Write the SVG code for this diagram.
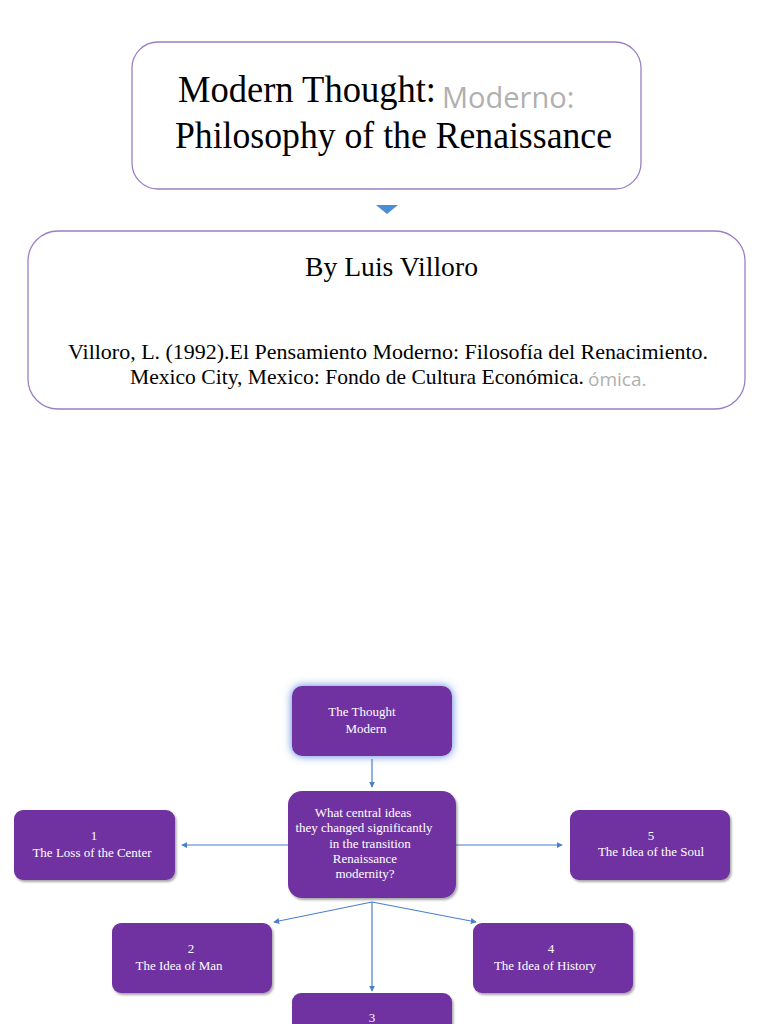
<svg xmlns="http://www.w3.org/2000/svg" width="768" height="1024" viewBox="0 0 768 1024">
<defs>
<style>
.card{fill:#fff;stroke:#9b7fc4;stroke-width:1.3}
.ser{font-family:"Liberation Serif",serif;fill:#000}
.ghost{font-family:"Open Sans","Liberation Sans",sans-serif;fill:#b0b0b0}
.pb{fill:#7030a0}
.wt{font-family:"Liberation Serif","Times New Roman",serif;fill:#fff;font-size:13px;text-anchor:middle}
.ln{stroke:#4a7fd0;stroke-width:1.2;fill:none;marker-end:url(#ah)}
</style>
<marker id="ah" viewBox="0 0 8 8" refX="7" refY="4" markerWidth="5" markerHeight="5" orient="auto"><path d="M0,0L8,4L0,8z" fill="#4a7fd0"/></marker>
<filter id="sh" x="-10%" y="-10%" width="125%" height="130%"><feDropShadow dx="1.5" dy="2" stdDeviation="1.2" flood-color="#000" flood-opacity="0.35"/></filter>
<filter id="glow" x="-20%" y="-30%" width="140%" height="160%"><feDropShadow dx="0" dy="0" stdDeviation="4" flood-color="#3a6fd8" flood-opacity="0.9"/></filter>
</defs>
<rect width="768" height="1024" fill="#fff"/>
<g id="title">
<rect class="card" x="132" y="42" width="509" height="147" rx="26"/>
<text class="ghost" x="442" y="108" font-size="29">Moderno:</text>
<text class="ser" x="178" y="102" font-size="37" textLength="258" lengthAdjust="spacingAndGlyphs">Modern Thought:</text>
<text class="ser" x="175" y="148" font-size="37" textLength="437" lengthAdjust="spacingAndGlyphs">Philosophy of the Renaissance</text>
</g>
<path d="M376,205L398,205L387,214z" fill="#4a8fd6"/>
<g id="author">
<rect class="card" x="28" y="231" width="717" height="178" rx="30"/>
<text class="ser" x="305" y="276" font-size="27" textLength="173" lengthAdjust="spacingAndGlyphs">By Luis Villoro</text>
<text class="ghost" x="588" y="386" font-size="19">ómica.</text>
<text class="ser" x="68" y="359" font-size="22" textLength="640" lengthAdjust="spacingAndGlyphs">Villoro, L. (1992).El Pensamiento Moderno: Filosofía del Renacimiento.</text>
<text class="ser" x="130" y="384" font-size="22" textLength="454" lengthAdjust="spacingAndGlyphs">Mexico City, Mexico: Fondo de Cultura Económica.</text>
</g>
<g id="connectors">
<line class="ln" x1="372" y1="759" x2="372" y2="787"/>
<line class="ln" x1="288" y1="845" x2="182" y2="845"/>
<line class="ln" x1="456" y1="845" x2="562" y2="845"/>
<line class="ln" x1="372" y1="902" x2="274" y2="922"/>
<line class="ln" x1="372" y1="902" x2="476" y2="922"/>
<line class="ln" x1="372" y1="902" x2="372" y2="991"/>
</g>
<g id="n-thought"><rect class="pb" x="292" y="686" width="160" height="70" rx="10" filter="url(#glow)"/>
<text class="wt" x="362" y="716">The Thought</text><text class="wt" x="366" y="733">Modern</text></g>
<g id="n-question"><rect class="pb" x="288" y="791" width="168" height="107" rx="14" filter="url(#sh)"/>
<text class="wt" font-size="11"><tspan x="363" y="817">What central ideas</tspan><tspan x="364" y="832">they changed significantly</tspan><tspan x="370" y="848">in the transition</tspan><tspan x="365" y="863">Renaissance</tspan><tspan x="365" y="878">modernity?</tspan></text></g>
<g id="n1"><rect class="pb" x="14" y="810" width="161" height="70" rx="9" filter="url(#sh)"/>
<text class="wt" x="94" y="840">1</text><text class="wt" x="92" y="857">The Loss of the Center</text></g>
<g id="n5"><rect class="pb" x="570" y="810" width="160" height="70" rx="9" filter="url(#sh)"/>
<text class="wt" x="651" y="840">5</text><text class="wt" x="651" y="856">The Idea of the Soul</text></g>
<g id="n2"><rect class="pb" x="112" y="923" width="160" height="70" rx="9" filter="url(#sh)"/>
<text class="wt" x="191" y="953">2</text><text class="wt" x="179" y="970">The Idea of Man</text></g>
<g id="n4"><rect class="pb" x="473" y="923" width="160" height="70" rx="9" filter="url(#sh)"/>
<text class="wt" x="551" y="953">4</text><text class="wt" x="545" y="970">The Idea of History</text></g>
<g id="n3"><rect class="pb" x="292" y="993" width="160" height="50" rx="9" filter="url(#sh)"/>
<text class="wt" x="372" y="1022">3</text></g>
</svg>
